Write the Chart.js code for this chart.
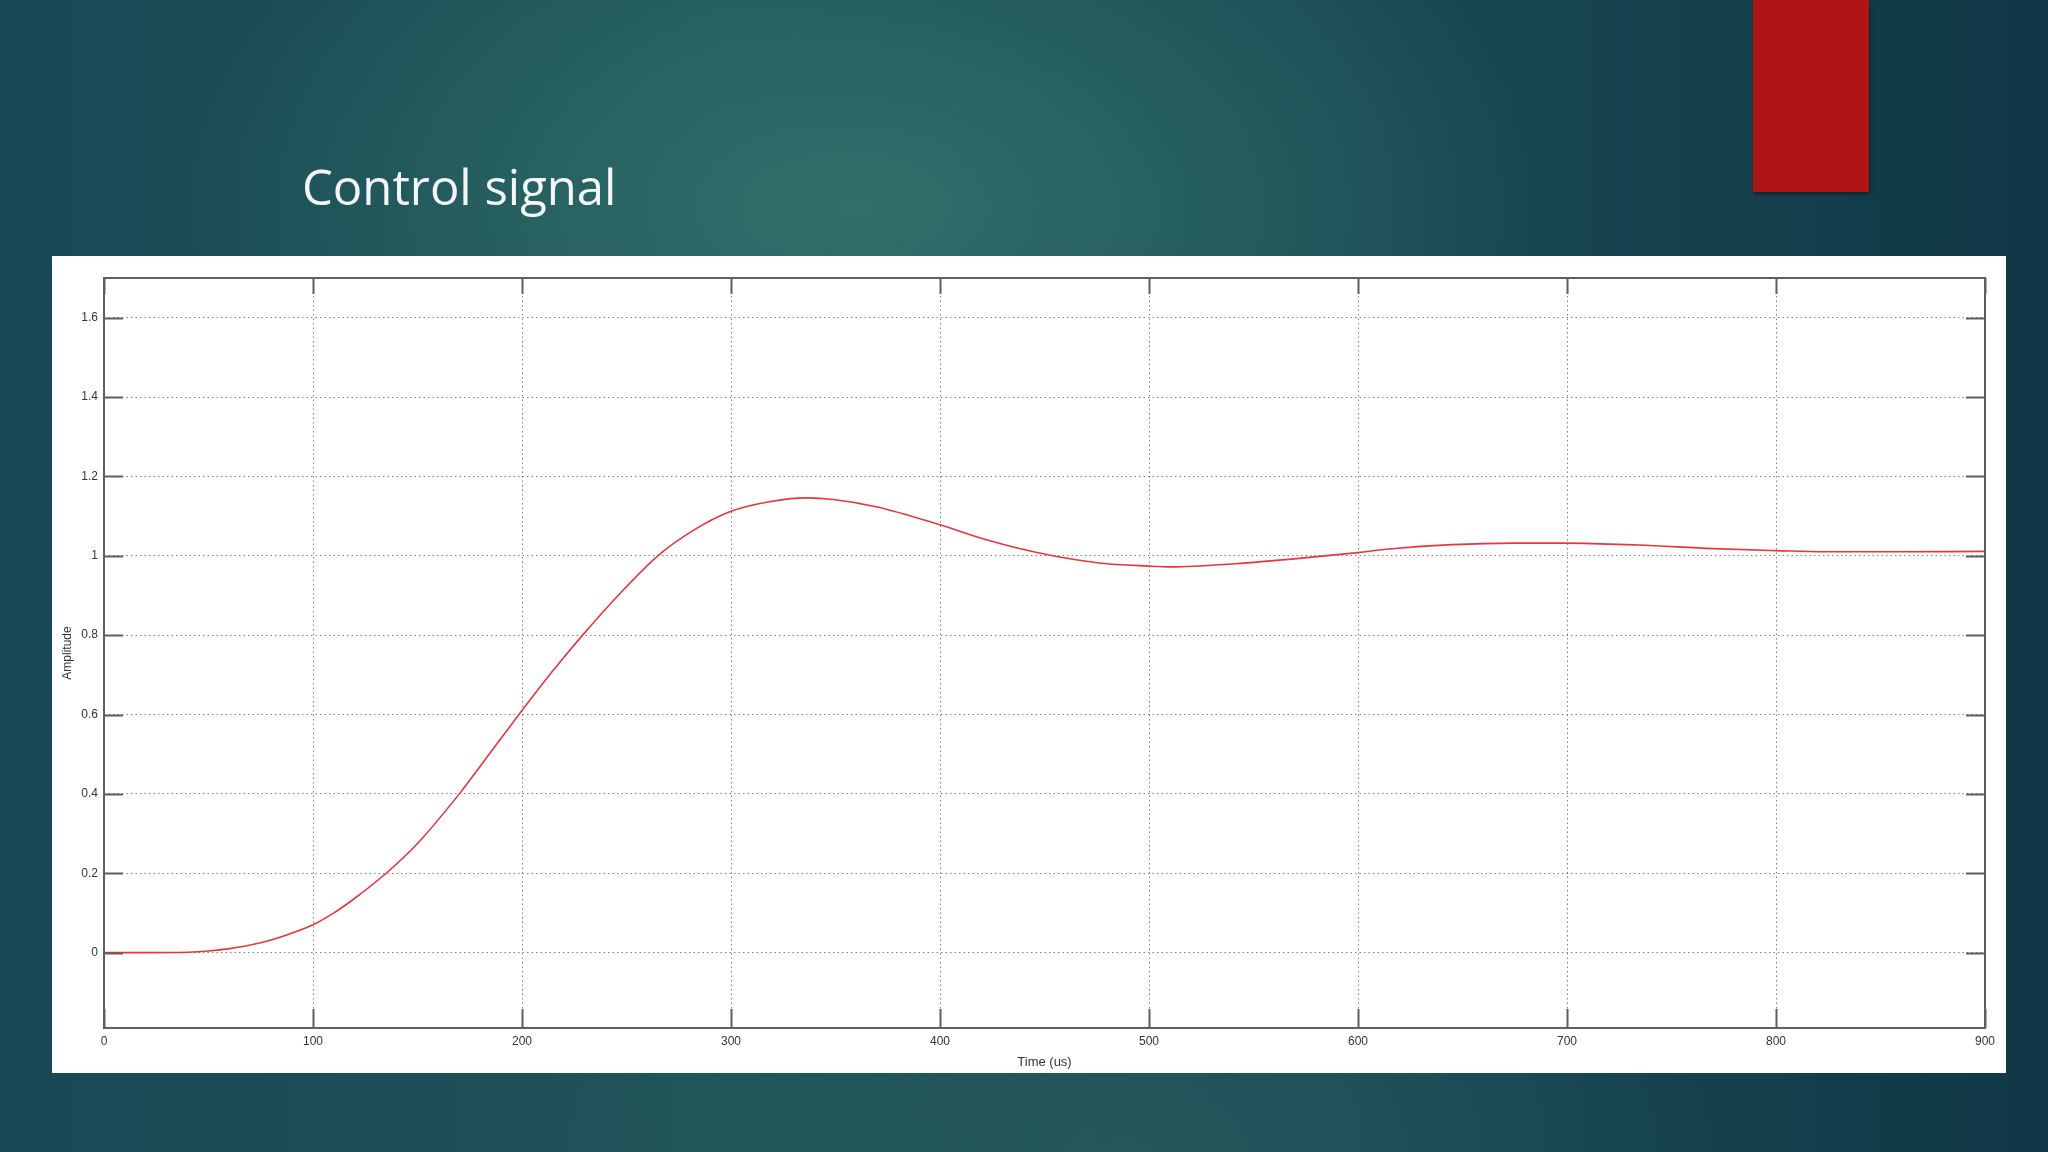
<!DOCTYPE html>
<html>
<head>
<meta charset="utf-8">
<script src="https://cdn.jsdelivr.net/npm/chart.js@4/dist/chart.umd.min.js"></script>
<style>
  html, body { margin: 0; padding: 0; }
  body {
    width: 2048px; height: 1152px; overflow: hidden; position: relative;
    background:
      radial-gradient(ellipse 700px 380px at 42% 18%, rgba(56,124,114,.7), rgba(56,124,114,0) 100%),
      radial-gradient(ellipse 600px 300px at 55% 100%, rgba(45,100,100,.45), rgba(45,100,100,0) 100%),
      linear-gradient(90deg, #184854 0%, #1f5459 35%, #1a4b55 65%, #103745 100%);
  }
  .title {
    position: absolute; left: 302px; top: 162px;
    font-family: "Open Sans", "Noto Sans", sans-serif; font-size: 49px; color: #f2f6f6;
    line-height: 1; white-space: nowrap;
  }
  .accent {
    position: absolute; left: 1753px; top: 0; width: 116px; height: 192px;
    background: #b01515; box-shadow: 1px 2px 3px rgba(0,0,0,.45);
  }
  .card { position: absolute; left: 52px; top: 256px; width: 1954px; height: 817px; background: #fff; }
</style>
</head>
<body>
<div class="title">Control signal</div>
<div class="accent"></div>
<div class="card"><canvas id="plot" width="1954" height="817"></canvas></div>
<script>
// step response
const TIME_US = [0, 20, 40, 50, 60, 75, 85, 100, 110, 120, 135, 150, 170, 185, 200, 214, 229, 246, 265, 282,
  300, 317, 336, 349, 370, 400, 423, 451, 476, 500, 511, 541, 573, 600, 615, 645, 675, 700, 734, 770,
  800, 823, 853, 900];
const AMPLITUDE = [0, 0, 0.001, 0.004, 0.01, 0.025, 0.04, 0.07, 0.1, 0.137, 0.2, 0.275, 0.4, 0.505, 0.61,
  0.705, 0.8, 0.9, 1.0, 1.064, 1.112, 1.135, 1.146, 1.142, 1.123, 1.078, 1.039, 1.003, 0.982, 0.974, 0.972,
  0.98, 0.994, 1.008, 1.017, 1.028, 1.032, 1.032, 1.027, 1.018, 1.013, 1.01, 1.01, 1.011];
const X_TICKS = [0, 100, 200, 300, 400, 500, 600, 700, 800, 900];
const Y_TICKS = [0, 0.2, 0.4, 0.6, 0.8, 1, 1.2, 1.4, 1.6];
const Y_LABELS = ['0', '0.2', '0.4', '0.6', '0.8', '1', '1.2', '1.4', '1.6'];

const AXIS = '#5f5f5f';
const tickFont = { family: 'Liberation Sans, Arial, sans-serif', size: 12 };

// matlab style box with inward tick marks on all four sides
const boxTicks = {
  id: 'boxTicks',
  afterDraw(chart) {
    const { ctx, chartArea: a, scales: { x, y } } = chart;
    ctx.save();
    ctx.strokeStyle = AXIS; ctx.lineWidth = 2;
    ctx.beginPath();
    for (const v of X_TICKS) {
      const px = Math.round(x.getPixelForValue(v)) + 0.5;
      ctx.moveTo(px, a.bottom); ctx.lineTo(px, a.bottom - 19);
      ctx.moveTo(px, a.top); ctx.lineTo(px, a.top + 16);
    }
    for (const v of Y_TICKS) {
      const py = Math.round(y.getPixelForValue(v)) + 0.5;
      ctx.moveTo(a.left, py); ctx.lineTo(a.left + 19, py);
      ctx.moveTo(a.right, py); ctx.lineTo(a.right - 19, py);
    }
    ctx.stroke();
    ctx.strokeRect(a.left, a.top, a.right - a.left, a.bottom - a.top);
    ctx.restore();
  }
};

new Chart(document.getElementById('plot'), {
  type: 'line',
  data: { datasets: [{
    data: TIME_US.map((t, i) => ({ x: t, y: AMPLITUDE[i] })),
    borderColor: '#e8363f', borderWidth: 1.6, pointRadius: 0, cubicInterpolationMode: 'monotone', fill: false,
  }] },
  options: {
    responsive: false, animation: false,
    layout: { padding: { top: 22, right: 21, left: 0, bottom: 0 } },
    plugins: { legend: { display: false }, tooltip: { enabled: false } },
    scales: {
      x: {
        type: 'linear', min: 0, max: 900,
        afterBuildTicks: s => { s.ticks = X_TICKS.map(v => ({ value: v })); },
        afterFit: s => { s.height = 45; },
        ticks: { color: '#333', font: tickFont, padding: 6, maxRotation: 0 },
        grid: { color: '#828282', lineWidth: 1, drawTicks: false },
        border: { display: false, dash: [1.5, 3] },
        title: { display: true, text: 'Time (us)', color: '#333',
          font: { family: 'Liberation Sans, Arial, sans-serif', size: 13 }, padding: { top: 0, bottom: 3 } },
      },
      y: {
        type: 'linear', min: -0.19, max: 1.7,
        afterBuildTicks: s => { s.ticks = Y_TICKS.map(v => ({ value: v })); },
        afterFit: s => { s.width = 52; },
        ticks: { color: '#333', font: tickFont, padding: 6,
          callback: (v, i) => Y_LABELS[i] },
        grid: { color: '#828282', lineWidth: 1, drawTicks: false },
        border: { display: false, dash: [1.5, 3] },
        title: { display: true, text: 'Amplitude', color: '#333',
          font: { family: 'Liberation Sans, Arial, sans-serif', size: 12 }, padding: { top: 8, bottom: 0 } },
      },
    },
  },
  plugins: [boxTicks],
});
</script>
</body>
</html>
